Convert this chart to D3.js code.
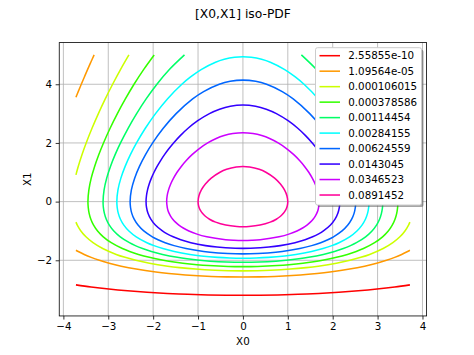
<!DOCTYPE html>
<html><head><meta charset="utf-8">
<script src="https://cdn.jsdelivr.net/npm/d3@7"></script>
<style>
body{margin:0;background:#fff}
svg{display:block}
text{font-family:"DejaVu Sans","Liberation Sans",sans-serif;fill:#000}
</style>
</head><body>
<svg id="chart" width="474" height="355"></svg>
<script>
// ---------------- data ----------------
const chartTitle = "[X0,X1] iso-PDF";
const xLabel = "X0";
const yLabel = "X1";
const xTicks = [-4, -3, -2, -1, 0, 1, 2, 3, 4];
const yTicks = [-2, 0, 2, 4];
const levelLabels = ["2.55855e-10", "1.09564e-05", "0.000106015", "0.000378586", "0.00114454",
                     "0.00284155", "0.00624559", "0.0143045", "0.0346523", "0.0891452"];
const palette = ["#ff0000", "#ff9900", "#ccff00", "#33ff00", "#00ff66",
                 "#00ffff", "#0066ff", "#3300ff", "#cc00ff", "#ff0099"];

// Iso-lines, right half (X0 >= 0); the left half is their mirror image (the PDF is even in X0)
const iso1Low = [[0,-3.193],[0.372,-3.19],[0.776,-3.18],[1.230,-3.16],[1.687,-3.13],[2.136,-3.09],[2.570,-3.04],[2.987,-2.98],[3.383,-2.91],[3.72,-2.838]];
const iso2Low = [[0,-2.570],[0.366,-2.565],[0.701,-2.55],[1.281,-2.5],[1.652,-2.45],[1.939,-2.4],[2.378,-2.3],[2.712,-2.2],[2.979,-2.1],[3.198,-2.0],[3.381,-1.9],[3.536,-1.8],[3.669,-1.7],[3.72,-1.657]];
const iso2Up = [[3.72,3.555],[3.669,3.75],[3.601,4.0],[3.532,4.25],[3.462,4.5],[3.389,4.75],[3.315,5.0]];
const iso3Low = [[0,-2.360],[0.316,-2.355],[0.619,-2.34],[1.057,-2.3],[1.411,-2.25],[1.678,-2.2],[2.082,-2.1],[2.385,-2.0],[2.626,-1.9],[2.823,-1.8],[3.124,-1.6],[3.340,-1.4],[3.497,-1.2],[3.610,-1.0],[3.690,-0.8],[3.72,-0.7]];
const iso3Up = [[3.72,0.912],[3.705,1.0],[3.669,1.2],[3.586,1.6],[3.492,2.0],[3.362,2.5],[3.220,3.0],[3.067,3.5],[2.903,4.0],[2.728,4.5],[2.540,5.0]];
const iso4 = [[0,-2.216],[0.330,-2.21],[0.767,-2.18],[1.025,-2.15],[1.337,-2.1],[1.576,-2.05],[1.773,-2.0],[2.085,-1.9],[2.328,-1.8],[2.524,-1.7],[2.686,-1.6],[2.934,-1.4],[3.111,-1.2],[3.238,-1.0],[3.327,-0.8],[3.388,-0.6],[3.426,-0.4],[3.446,-0.2],[3.453,0],[3.432,0.4],[3.380,0.8],[3.304,1.2],[3.212,1.6],[3.106,2.0],[2.959,2.5],[2.797,3.0],[2.619,3.5],[2.426,4.0],[2.213,4.5],[1.977,5.0]];
const iso5 = [[0,-2.070],[0.368,-2.06],[0.735,-2.03],[0.964,-2.0],[1.245,-1.95],[1.462,-1.9],[1.791,-1.8],[2.040,-1.7],[2.236,-1.6],[2.397,-1.5],[2.529,-1.4],[2.733,-1.2],[2.876,-1.0],[2.976,-0.8],[3.044,-0.6],[3.086,-0.4],[3.109,-0.2],[3.116,0],[3.093,0.4],[3.035,0.8],[2.951,1.2],[2.847,1.6],[2.727,2.0],[2.558,2.5],[2.368,3.0],[2.156,3.5],[1.916,4.0],[1.639,4.5],[1.302,5.0]];
const iso6 = [[0,-1.927],[0.295,-1.92],[0.563,-1.9],[0.932,-1.85],[1.179,-1.8],[1.530,-1.7],[1.784,-1.6],[1.981,-1.5],[2.140,-1.4],[2.377,-1.2],[2.540,-1.0],[2.653,-0.8],[2.729,-0.6],[2.776,-0.4],[2.801,-0.2],[2.809,0],[2.784,0.4],[2.719,0.8],[2.624,1.2],[2.507,1.6],[2.370,2.0],[2.174,2.5],[1.947,3.0],[1.682,3.5],[1.361,4.0],[1.166,4.25],[0.931,4.5],[0.610,4.75],[0.416,4.85],[0.185,4.92],[0,4.937]];
const iso7 = [[0,-1.781],[0.335,-1.77],[0.552,-1.75],[0.875,-1.7],[1.268,-1.6],[1.533,-1.5],[1.733,-1.4],[1.891,-1.3],[2.018,-1.2],[2.209,-1.0],[2.337,-0.8],[2.423,-0.6],[2.476,-0.4],[2.504,-0.2],[2.513,0],[2.485,0.4],[2.412,0.8],[2.305,1.2],[2.170,1.6],[2.011,2.0],[1.775,2.5],[1.488,3.0],[1.120,3.5],[0.876,3.75],[0.527,4.0],[0.284,4.1],[0,4.141]];
const iso8 = [[0,-1.594],[0.171,-1.59],[0.578,-1.55],[0.833,-1.5],[1.160,-1.4],[1.385,-1.3],[1.554,-1.2],[1.688,-1.1],[1.794,-1.0],[1.951,-0.8],[2.052,-0.6],[2.115,-0.4],[2.148,-0.2],[2.158,0],[2.149,0.2],[2.125,0.4],[2.088,0.6],[2.039,0.8],[1.980,1.0],[1.912,1.2],[1.834,1.4],[1.747,1.6],[1.651,1.8],[1.545,2.0],[1.395,2.25],[1.222,2.5],[1.014,2.75],[0.746,3.0],[0.520,3.15],[0.281,3.25],[0,3.291]];
const iso9 = [[0,-1.327],[0.200,-1.32],[0.385,-1.3],[0.804,-1.2],[1.039,-1.1],[1.204,-1.0],[1.330,-0.9],[1.427,-0.8],[1.503,-0.7],[1.563,-0.6],[1.609,-0.5],[1.644,-0.4],[1.670,-0.3],[1.686,-0.2],[1.699,0],[1.688,0.2],[1.657,0.4],[1.609,0.6],[1.545,0.8],[1.467,1.0],[1.373,1.2],[1.262,1.4],[1.133,1.6],[0.978,1.8],[0.785,2.0],[0.595,2.15],[0.420,2.25],[0.224,2.32],[0,2.348]];
const iso10 = [[0,-0.857],[0.134,-0.85],[0.382,-0.8],[0.608,-0.7],[0.744,-0.6],[0.837,-0.5],[0.902,-0.4],[0.947,-0.3],[0.977,-0.2],[0.993,-0.1],[0.999,0],[0.980,0.2],[0.926,0.4],[0.836,0.6],[0.706,0.8],[0.511,1.0],[0.363,1.1],[0.150,1.18],[0,1.196]];

// ---------------- layout ----------------
const W = 474, H = 355;
const pL = 59.25, pR = 426.6, pT = 42.6, pB = 315.95;
const xDomain = [-4.092, 4.092];
const yDomain = [-3.897, 5.42];
const lineW = 1.54;
const fs = 10.3;

const svg = d3.select("#chart");
const x = d3.scaleLinear().domain(xDomain).range([pL, pR]);
const y = d3.scaleLinear().domain(yDomain).range([pB, pT]);

svg.append("rect").attr("width", W).attr("height", H).attr("fill", "#fff");

svg.append("defs").append("clipPath").attr("id", "plotclip")
  .append("rect").attr("x", pL).attr("y", pT).attr("width", pR - pL).attr("height", pB - pT);

// grid
const grid = svg.append("g");
grid.selectAll("line.gx").data(xTicks).join("line").attr("class", "gx")
  .attr("x1", d => x(d)).attr("x2", d => x(d)).attr("y1", pT).attr("y2", pB)
  .attr("stroke", "#b0b0b0").attr("stroke-width", 0.8);
grid.selectAll("line.gy").data(yTicks).join("line").attr("class", "gy")
  .attr("y1", d => y(d)).attr("y2", d => y(d)).attr("x1", pL).attr("x2", pR)
  .attr("stroke", "#b0b0b0").attr("stroke-width", 0.8);

// contour pieces
const mirror = pts => pts.map(([a, b]) => [-a, b]);
const pieces = [
  {lvl: 0, half: iso1Low, kind: "U"},
  {lvl: 1, half: iso2Low, kind: "U"},
  {lvl: 1, half: iso2Up, kind: "side"},
  {lvl: 2, half: iso3Low, kind: "U"},
  {lvl: 2, half: iso3Up, kind: "side"},
  {lvl: 3, half: iso4, kind: "U"},
  {lvl: 4, half: iso5, kind: "U"},
  {lvl: 5, half: iso6, kind: "ring"},
  {lvl: 6, half: iso7, kind: "ring"},
  {lvl: 7, half: iso8, kind: "ring"},
  {lvl: 8, half: iso9, kind: "ring"},
  {lvl: 9, half: iso10, kind: "ring"}
];
const openLine = d3.line().x(d => x(d[0])).y(d => y(d[1])).curve(d3.curveCatmullRom.alpha(0.5));
const closedLine = d3.line().x(d => x(d[0])).y(d => y(d[1])).curve(d3.curveCatmullRomClosed.alpha(0.5));

const plot = svg.append("g").attr("clip-path", "url(#plotclip)");
pieces.forEach(p => {
  const col = palette[p.lvl];
  const paths = [];
  if (p.kind === "U") {
    paths.push(openLine(mirror(p.half.slice(1)).reverse().concat(p.half)));
  } else if (p.kind === "ring") {
    paths.push(closedLine(p.half.concat(mirror(p.half.slice(1, -1)).reverse())));
  } else {
    paths.push(openLine(p.half));
    paths.push(openLine(mirror(p.half)));
  }
  paths.forEach(dd => plot.append("path").attr("d", dd).attr("fill", "none")
    .attr("stroke", col).attr("stroke-width", lineW).attr("stroke-linejoin", "round"));
});

// axes frame
svg.append("rect").attr("x", pL).attr("y", pT).attr("width", pR - pL).attr("height", pB - pT)
  .attr("fill", "none").attr("stroke", "#000").attr("stroke-width", 0.8);

// ticks
const fmt = d => (d < 0 ? "\u2212" + Math.abs(d) : String(d));
const xAxis = d3.axisBottom(x).tickValues(xTicks).tickSize(3.6).tickPadding(3.5).tickFormat(fmt);
const yAxis = d3.axisLeft(y).tickValues(yTicks).tickSize(3.6).tickPadding(3.5).tickFormat(fmt);
const gx = svg.append("g").attr("transform", `translate(0,${pB})`).call(xAxis);
const gy = svg.append("g").attr("transform", `translate(${pL},0)`).call(yAxis);
[gx, gy].forEach(g => {
  g.select(".domain").remove();
  g.selectAll(".tick line").attr("stroke", "#000").attr("stroke-width", 0.8);
  g.selectAll(".tick text").attr("font-size", fs).attr("fill", "#000")
    .attr("font-family", "DejaVu Sans, sans-serif");
});

// labels
svg.append("text").attr("x", (pL + pR) / 2).attr("y", 345).attr("text-anchor", "middle")
  .attr("font-size", fs).text(xLabel);
svg.append("text").attr("transform", `translate(30.5,${(pT + pB) / 2}) rotate(-90)`)
  .attr("text-anchor", "middle").attr("font-size", fs).text(yLabel);
svg.append("text").attr("x", (pL + pR) / 2).attr("y", 17.5).attr("text-anchor", "middle")
  .attr("font-size", 12.3).text(chartTitle);

// legend
const lgX = 315.5, lgY = 47.7, lgW = 106, lgH = 157.3;
const legend = svg.append("g");
legend.append("rect").attr("x", lgX + 2).attr("y", lgY + 2).attr("width", lgW).attr("height", lgH)
  .attr("rx", 2).attr("fill", "#4d4d4d").attr("opacity", 0.5);
legend.append("rect").attr("x", lgX).attr("y", lgY).attr("width", lgW).attr("height", lgH)
  .attr("rx", 2).attr("fill", "#fff").attr("stroke", "#cccccc").attr("stroke-width", 1);
const rowH = 15.48, row0 = 55.7;
levelLabels.forEach((lab, i) => {
  const cy = row0 + i * rowH;
  legend.append("line").attr("x1", 319.5).attr("x2", 340).attr("y1", cy).attr("y2", cy)
    .attr("stroke", palette[i]).attr("stroke-width", lineW);
  legend.append("text").attr("x", 348.3).attr("y", cy).attr("dy", "0.36em")
    .attr("font-size", fs).text(lab);
});
</script>
</body></html>
